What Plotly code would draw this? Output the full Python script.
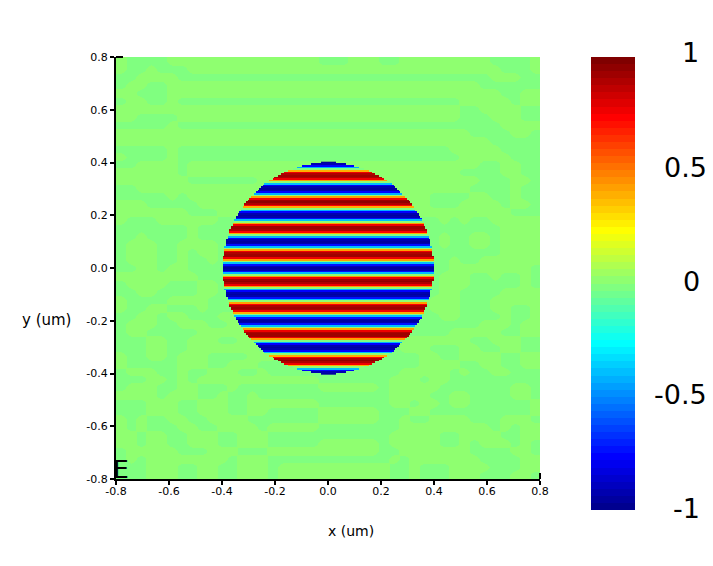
import numpy as np
import plotly.graph_objects as go

# ---------------------------
# DATA
# ---------------------------

tick_vals = [-0.8, -0.6, -0.4, -0.2, 0.0, 0.2, 0.4, 0.6, 0.8]
tick_text = ["-0.8", "-0.6", "-0.4", "-0.2", "0.0", "0.2", "0.4", "0.6", "0.8"]
cbar_labels = ["1", "0.5", "0", "-0.5", "-1"]

# background ripple outside the disc: 0 = just under zero, 1 = just over zero
bg_low = -0.0156
bg_high = 0.0156
bg_rows = [
    "100001 111111 111111 110001 110011 111111 100001",
    "100100 011111 111111 111111 111111 111111 110001",
    "001111 000000 000000 000000 000000 000000 011100",
    "011001 111111 111111 111111 111111 111111 000000",
    "110001 111111 111111 111111 111111 111111 110011",
    "011001 000000 000000 000000 000000 000011 111011",
    "111111 111111 111111 111111 111111 111100 111100",
    "110000 111111 111111 111111 111111 111100 011100",
    "000001 000000 000000 000000 000000 000000 001111",
    "111111 111111 111111 111111 111111 111110 000110",
    "111111 111111 111111 111111 111111 111111 100000",
    "000001 000000 000000 000000 000000 000111 110000",
    "100001 000000 000000 000000 000000 000011 111000",
    "001111 011111 111111 111111 111111 111111 001100",
    "111111 011111 111111 111111 111111 111100 001100",
    "111111 100000 001111 111111 111111 111111 000110",
    "001111 111111 111111 111111 111111 111110 000100",
    "000001 011111 111111 111111 111111 100001 100100",
    "111000 001111 111111 111111 111111 100011 110110",
    "111111 100011 111111 111111 111111 111111 111000",
    "100011 111100 000000 000000 000000 001010 011111",
    "000000 010000 000000 000000 000000 000000 001111",
    "001000 010000 000000 000000 000000 001001 101111",
    "011100 111100 000000 000000 000000 001001 101111",
    "011100 101100 000000 000000 000000 000000 001111",
    "011100 100100 000000 000000 000000 000100 111111",
    "001101 100000 000000 000000 000000 000111 111110",
    "111111 110000 000000 000000 000000 001110 010010",
    "011110 001100 000000 000000 000000 001110 000010",
    "001100 001100 000000 000000 000000 001100 001111",
    "100001 111000 000000 000000 000000 011100 011111",
    "100110 001000 000000 000000 000000 011100 011001",
    "001101 100011 000000 000000 000000 001100 001001",
    "011100 111001 100000 000000 000000 000000 111011",
    "011000 001111 110000 000000 000000 000111 110011",
    "000110 011100 111000 000000 000111 111110 011100",
    "000110 011111 110000 000000 000011 100011 001100",
    "100110 111000 011100 000000 000000 110011 110011",
    "100000 111001 110000 000000 000000 111100 110011",
    "011100 100111 001000 000000 000011 111010 011000",
    "000110 101111 111111 110000 000111 011000 000000",
    "011100 110001 000000 001111 110111 110000 000110",
    "111101 110010 010000 000000 000111 100110 000110",
    "000111 001110 011111 110000 000110 110110 000001",
    "000111 001110 011000 001111 110001 100000 000001",
    "101001 100111 100000 001111 110010 011110 001110",
    "101000 110011 110111 110000 000011 111111 101011",
    "110110 011100 111000 000000 000111 110011 110011",
    "110110 011100 111000 001111 110111 110010 111010",
    "011111 000111 000111 111111 110011 111110 000110",
    "010111 111110 111000 000000 000101 111111 000011",
    "000111 001100 111011 111111 111001 000111 100011",
    "000111 001100 111011 111111 111001 000111 000110",
]

# stripe value for each row of the disc, from y=0.4 down to y=-0.4
stripe_profile = [
    -0.94, -0.93, -0.76, -0.42, -0.02, 0.40, 0.76, 0.90,
    0.93, 0.90, 0.77, 0.42, 0.01, -0.40, -0.76, -0.92,
    -0.95, -0.93, -0.76, -0.41, 0.00, 0.41, 0.75, 0.91,
    0.94, 0.90, 0.74, 0.40, -0.02, -0.41, -0.77, -0.92,
    -0.95, -0.92, -0.75, -0.40, 0.01, 0.42, 0.76, 0.91,
    0.92, 0.89, 0.73, 0.39, -0.01, -0.42, -0.77, -0.92,
    -0.94, -0.91, -0.74, -0.39, 0.02, 0.43, 0.77, 0.90,
    0.93, 0.91, 0.76, 0.42, 0.00, -0.40, -0.75, -0.90,
    -0.94,
    -0.91, -0.74, -0.39, 0.01, 0.42, 0.75, 0.91,
    0.94, 0.90, 0.75, 0.41, 0.00, -0.41, -0.77, -0.92,
    -0.95, -0.91, -0.75, -0.40, 0.02, 0.41, 0.74, 0.90,
    0.92, 0.89, 0.75, 0.40, -0.01, -0.40, -0.75, -0.91,
    -0.94, -0.91, -0.74, -0.38, 0.03, 0.41, 0.75, 0.90,
    0.93, 0.91, 0.76, 0.41, -0.01, -0.41, -0.76, -0.91,
    -0.95, -0.92, -0.76, -0.40, 0.01, 0.40, 0.74, 0.90,
    0.94, 0.90, 0.75, 0.40, 0.00, -0.40, -0.76, -0.92,
    -0.94,
]

# half width (um) of the disc per row, from its middle row to its top row
disc_half_width = [
    0.396, 0.396, 0.396, 0.396, 0.395, 0.395, 0.394, 0.394, 0.393, 0.392,
    0.391, 0.390, 0.389, 0.388, 0.386, 0.385, 0.383, 0.382, 0.380, 0.378,
    0.376, 0.374, 0.372, 0.369, 0.367, 0.364, 0.362, 0.359, 0.356, 0.353,
    0.350, 0.346, 0.342, 0.339, 0.335, 0.331, 0.326, 0.322, 0.317, 0.313,
    0.308, 0.303, 0.297, 0.292, 0.286, 0.280, 0.274, 0.267, 0.261, 0.253,
    0.246, 0.238, 0.229, 0.220, 0.211, 0.201, 0.190, 0.178, 0.165, 0.151,
    0.135, 0.117, 0.095, 0.066, 0.030,
]

# ---------------------------
# GRIDS
# ---------------------------

z_bg = [[bg_high if ch == "1" else bg_low for ch in row.replace(" ", "")] for row in bg_rows]
nrow_bg = len(z_bg)
ncol_bg = len(z_bg[0])
x_bg = -0.8 + (np.arange(ncol_bg) + 0.5) * 1.6 / ncol_bg
y_bg = 0.8 - (np.arange(nrow_bg) + 0.5) * 1.6 / nrow_bg

nrow_disc = len(stripe_profile)
x_disc = np.linspace(-0.4, 0.4, nrow_disc)
y_disc = np.linspace(0.4, -0.4, nrow_disc)
half_by_row = disc_half_width[::-1] + disc_half_width[1:]
z_disc = [
    [v if abs(x) <= hw else None for x in x_disc]
    for v, hw in zip(stripe_profile, half_by_row)
]

# stepped jet with 64 levels, like the colour bar in the picture
jet_scale = []
for i in range(64):
    t = (i + 1) / 64
    rgb = [np.clip(1.5 - abs(4 * t - c), 0, 1) for c in (3, 2, 1)]
    col = "rgb(%d,%d,%d)" % tuple(round(255 * v) for v in rgb)
    jet_scale.append([i / 64, col])
    jet_scale.append([(i + 1) / 64, col])

# ---------------------------
# FIGURE
# ---------------------------

L, R, T, B = 116, 540, 57, 479


def px(x):
    return (x - L) / (R - L)


def py(y):
    return (B - y) / (B - T)


fig = go.Figure()

fig.add_trace(go.Heatmap(x=x_bg, y=y_bg, z=z_bg, coloraxis="coloraxis", zsmooth="best", hoverinfo="skip"))
fig.add_trace(go.Heatmap(x=x_disc, y=y_disc, z=z_disc, coloraxis="coloraxis", zsmooth=False, hoverongaps=False))

axis_style = dict(
    range=[-0.8, 0.8],
    tickvals=tick_vals,
    ticktext=tick_text,
    ticks="outside",
    ticklen=4,
    tickwidth=2,
    tickcolor="black",
    showline=True,
    linecolor="black",
    linewidth=2,
    showgrid=False,
    zeroline=False,
    tickfont=dict(family="DejaVu Sans", size=11, color="black"),
)

notes = [
    dict(x=px(46), y=py(320), text="y (um)", font=dict(size=15)),
    dict(x=px(351), y=py(531), text="x (um)", font=dict(size=14)),
    dict(x=px(121), y=py(469), text="E", font=dict(size=25)),
]
for label, cx, cy in zip(cbar_labels, [690, 685, 691, 680, 686], [53, 167, 281, 394, 508]):
    notes.append(dict(x=px(cx), y=py(cy), text=label, font=dict(size=27)))
for n in notes:
    n.update(xref="paper", yref="paper", showarrow=False, xanchor="center", yanchor="middle")
    n["font"].update(family="DejaVu Sans", color="black")

# the last ticks on both axes poke into the plot as well
end_ticks = [
    dict(type="line", xref="paper", yref="paper", x0=0, x1=px(123), y0=1, y1=1,
         line=dict(color="black", width=2)),
    dict(type="line", xref="paper", yref="paper", x0=1, x1=1, y0=0, y1=py(473),
         line=dict(color="black", width=2)),
]

fig.update_layout(
    width=713,
    height=566,
    margin=dict(l=L, r=713 - R, t=T, b=566 - B),
    paper_bgcolor="white",
    plot_bgcolor="white",
    xaxis=dict(axis_style, ticklabelstandoff=-3),
    yaxis=axis_style,
    annotations=notes,
    shapes=end_ticks,
    coloraxis=dict(
        colorscale=jet_scale,
        cmin=-1,
        cmax=1,
        colorbar=dict(
            x=px(591),
            xanchor="left",
            xpad=0,
            y=1,
            yanchor="top",
            ypad=0,
            thickness=44,
            thicknessmode="pixels",
            len=453,
            lenmode="pixels",
            outlinewidth=0,
            ticks="",
            showticklabels=False,
        ),
    ),
)

# the page has a default 8px body margin, drop it so the figure fills the window
fig.write_html(
    "out.html",
    config={"displayModeBar": False},
    post_script="document.body.style.margin='0';",
)
